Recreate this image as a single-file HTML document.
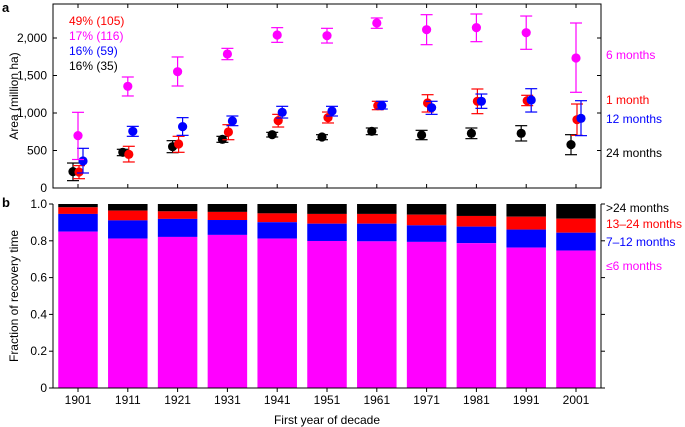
<!DOCTYPE html>
<html><head><meta charset="utf-8"><style>
html,body{margin:0;padding:0;background:#fff;}
svg{display:block;font-family:"Liberation Sans",Arial,sans-serif;}
</style></head><body>
<svg id="chart" width="685" height="427" viewBox="0 0 685 427" xmlns="http://www.w3.org/2000/svg"></svg>
<script>
const years=["1901","1911","1921","1931","1941","1951","1961","1971","1981","1991","2001"];
const magentaVal=[698,1356,1551,1787,2040,2031,2200,2111,2138,2071,1733];
const magentaLo=[380,1227,1360,1711,1942,1933,2129,1911,1951,1849,1276];
const magentaHi=[1009,1480,1747,1862,2138,2129,2267,2311,2320,2293,2200];
const redVal=[213,449,587,747,898,938,1098,1133,1156,1164,911];
const redLo=[124,347,476,644,813,867,1044,1013,991,1098,702];
const redHi=[298,556,689,844,982,1013,1156,1244,1320,1236,1120];
const blueVal=[360,756,818,893,1009,1027,1098,1071,1156,1173,929];
const blueLo=[200,689,702,831,933,960,1053,982,1062,1013,698];
const blueHi=[529,822,938,960,1089,1089,1156,1156,1253,1324,1164];
const blackVal=[218,476,551,649,711,680,756,707,729,729,578];
const blackLo=[98,431,471,609,680,644,711,644,658,627,444];
const blackHi=[333,516,631,689,742,711,800,769,800,831,711];
const fracLe6=[0.850,0.812,0.821,0.832,0.812,0.799,0.797,0.794,0.787,0.763,0.747];
const frac7to12=[0.946,0.911,0.919,0.913,0.901,0.893,0.893,0.884,0.877,0.861,0.844];
const frac13to24=[0.982,0.964,0.960,0.957,0.949,0.946,0.946,0.942,0.935,0.931,0.920];
const areaTicks=[0,500,1000,1500,2000];
const areaTickLabels=["0","500","1,000","1,500","2,000"];
const fracTicks=[0,0.2,0.4,0.6,0.8,1.0];
const fracTickLabels=["0","0.2","0.4","0.6","0.8","1.0"];

const NS="http://www.w3.org/2000/svg";
const svg=document.getElementById('chart');
function el(tag,attrs,parent,text){const e=document.createElementNS(NS,tag);for(const k in attrs)e.setAttribute(k,attrs[k]);if(text!==undefined)e.textContent=text;(parent||svg).appendChild(e);return e;}
const L=53,R=601;
const xA=i=>78+i*49.8;
const yA=v=>188-v*0.075;
const yB=v=>388-v*184;
const MAG="#ff00ff",RED="#ff0000",BLUE="#0000ff";

// Panel a
const ga=el('g',{});


let t=el('text',{x:2,y:12,'font-size':13,'font-weight':'bold'},ga,'a');

let r=el('rect',{x:L,y:4,width:R-L,height:184,fill:'none',stroke:'#000','stroke-width':1},ga);

areaTicks.forEach((v,i)=>{
  const y=yA(v);
  el('line',{x1:L,x2:L+4,y1:y,y2:y,stroke:'#000'},ga);
  el('line',{x1:R,x2:R-4,y1:y,y2:y,stroke:'#000'},ga);
  const tl=el('text',{x:L-6,y:y+4,'font-size':12,'text-anchor':'end'},ga,areaTickLabels[i]);
  
  
});
years.forEach((yr,i)=>{
  el('line',{x1:xA(i),x2:xA(i),y1:188,y2:184,stroke:'#000'},ga);
  el('line',{x1:xA(i),x2:xA(i),y1:4,y2:8,stroke:'#000'},ga);
});
t=el('text',{transform:'translate(18,96) rotate(-90)','font-size':12,'text-anchor':'middle'},ga,'Area (million ha)');

const series=[
  {name:'black',c:'#000',off:-5,v:blackVal,lo:blackLo,hi:blackHi},
  {name:'red',c:RED,off:1,v:redVal,lo:redLo,hi:redHi},
  {name:'blue',c:BLUE,off:5,v:blueVal,lo:blueLo,hi:blueHi},
  {name:'magenta',c:MAG,off:0,v:magentaVal,lo:magentaLo,hi:magentaHi}
];
series.forEach(s=>{
  s.v.forEach((v,i)=>{
    const x=xA(i)+s.off;
    const g=el('g',{},ga);
    
    
    el('line',{x1:x,x2:x,y1:yA(s.lo[i]),y2:yA(s.hi[i]),stroke:s.c,'stroke-width':1.2},g);
    el('line',{x1:x-6,x2:x+6,y1:yA(s.lo[i]),y2:yA(s.lo[i]),stroke:s.c,'stroke-width':1.2},g);
    el('line',{x1:x-6,x2:x+6,y1:yA(s.hi[i]),y2:yA(s.hi[i]),stroke:s.c,'stroke-width':1.2},g);
    el('circle',{cx:x,cy:yA(v),r:4.6,fill:s.c},g);
  });
});
const legA=[["49% (105)",RED,21],["17% (116)",MAG,36],["16% (59)",BLUE,51],["16% (35)","#000",66]];
legA.forEach(d=>{
  const e=el('text',{x:69,y:d[2]+4,'font-size':12,fill:d[1]},ga,d[0]);
  
  
});
const rightA=[["6 months",MAG,55],["1 month",RED,100],["12 months",BLUE,119],["24 months","#000",153]];
rightA.forEach(d=>{
  const e=el('text',{x:606,y:d[2]+4,'font-size':12,fill:d[1]},ga,d[0]);
  
  
});

// Panel b
const gb=el('g',{});


t=el('text',{x:2,y:207,'font-size':13,'font-weight':'bold'},gb,'b');

const bw=39.5;
years.forEach((yr,i)=>{
  const x=xA(i)-bw/2;
  const g=el('g',{},gb);
  
  
  el('rect',{x:x,y:yB(1),width:bw,height:yB(frac13to24[i])-yB(1),fill:'#000'},g);
  el('rect',{x:x,y:yB(frac13to24[i]),width:bw,height:yB(frac7to12[i])-yB(frac13to24[i]),fill:RED},g);
  el('rect',{x:x,y:yB(frac7to12[i]),width:bw,height:yB(fracLe6[i])-yB(frac7to12[i]),fill:BLUE},g);
  el('rect',{x:x,y:yB(fracLe6[i]),width:bw,height:yB(0)-yB(fracLe6[i]),fill:MAG},g);
  el('line',{x1:xA(i),x2:xA(i),y1:388,y2:392,stroke:'#000'},gb);
  const xl=el('text',{x:xA(i),y:404,'font-size':12,'text-anchor':'middle'},gb,yr);
  
  
});
el('line',{x1:L,x2:L,y1:204,y2:388,stroke:'#000'},gb);
el('line',{x1:R,x2:R,y1:204,y2:388,stroke:'#000'},gb);
el('line',{x1:L,x2:R,y1:388,y2:388,stroke:'#000'},gb);
fracTicks.forEach((v,i)=>{
  const y=yB(v);
  el('line',{x1:L,x2:L-4,y1:y,y2:y,stroke:'#000'},gb);
  el('line',{x1:R,x2:R+4,y1:y,y2:y,stroke:'#000'},gb);
  const tl=el('text',{x:L-6,y:y+4,'font-size':12,'text-anchor':'end'},gb,fracTickLabels[i]);
  
  
});
t=el('text',{transform:'translate(18,296) rotate(-90)','font-size':12,'text-anchor':'middle'},gb,'Fraction of recovery time');

t=el('text',{x:327,y:424,'font-size':12,'text-anchor':'middle'},gb,'First year of decade');

const rightB=[[">24 months","#000",208],["13–24 months",RED,224],["7–12 months",BLUE,242],["≤6 months",MAG,266]];
rightB.forEach(d=>{
  const e=el('text',{x:606,y:d[2]+4,'font-size':12,fill:d[1]},gb,d[0]);
  
  
});
</script>
</body></html>
